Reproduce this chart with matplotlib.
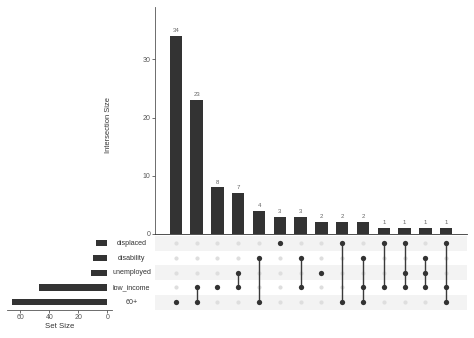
import matplotlib
matplotlib.use("Agg")
import matplotlib.pyplot as plt
from matplotlib.transforms import blended_transform_factory

plt.rcParams['font.family'] = ['Liberation Sans', 'DejaVu Sans']

# Data
sets = ["60+", "low_income", "unemployed", "disability", "displaced"]  # bottom to top
set_sizes = [66, 47, 11, 10, 8]
intersections = [
    ["60+"],
    ["low_income", "60+"],
    ["low_income"],
    ["unemployed", "low_income"],
    ["disability", "60+"],
    ["displaced"],
    ["disability", "low_income"],
    ["unemployed"],
    ["displaced", "60+"],
    ["disability", "low_income", "60+"],
    ["displaced", "low_income"],
    ["displaced", "unemployed", "low_income"],
    ["disability", "unemployed", "low_income"],
    ["displaced", "low_income", "60+"],
]
inter_sizes = [34, 23, 8, 7, 4, 3, 3, 2, 2, 2, 1, 1, 1, 1]
bar_ticks = [0, 10, 20, 30]
set_ticks = [60, 40, 20, 0]

W, H = 474, 338
fig = plt.figure(figsize=(W / 100, H / 100), dpi=100)

def ax_px(l, t, r, b):
    return fig.add_axes([l / W, 1 - b / H, (r - l) / W, (b - t) / H])

dark = "#333333"
txt = "#555555"
axc = "#555555"
n = len(inter_sizes)
xs = list(range(n))

# Intersection bars
axb = ax_px(155, 7, 467, 234)
axb.bar(xs, inter_sizes, width=0.6, color=dark)
for x, v in zip(xs, inter_sizes):
    axb.text(x, v + 0.5, str(v), ha="center", va="bottom", fontsize=4.3, color="#666666")
axb.set_xlim(-1, 14)
axb.set_ylim(0, 39)
axb.set_yticks(bar_ticks)
axb.set_yticklabels([str(t) for t in bar_ticks])
axb.tick_params(axis="y", labelsize=5, colors=axc, labelcolor=txt, length=2, width=0.6, pad=1.5)
axb.tick_params(axis="x", bottom=False, labelbottom=False)
for s in ["top", "right"]:
    axb.spines[s].set_visible(False)
axb.spines["left"].set_linewidth(0.6)
axb.spines["bottom"].set_linewidth(0.6)
axb.spines["left"].set_color(axc)
axb.spines["bottom"].set_color(dark)
fig.text(108 / W, 1 - 125 / H, "Intersection Size", rotation=90, ha="center", va="center",
         fontsize=5.4, color="#333333")

# Matrix
axm = ax_px(155, 236, 467, 309.5)
axm.set_xlim(-1, 14)
axm.set_ylim(-0.5, 4.5)
for i in range(0, len(sets), 2):
    axm.axhspan(i - 0.5, i + 0.5, color="#f3f3f3", lw=0, zorder=0)
for x, combo in enumerate(intersections):
    ys = [sets.index(s) for s in combo]
    for j in range(len(sets)):
        if j not in ys:
            axm.plot(x, j, "o", ms=3.0, color="#dedede", mec="none", zorder=2)
    if len(ys) > 1:
        axm.plot([x, x], [min(ys), max(ys)], color="#3a3a3a", lw=1.0, zorder=3)
    axm.plot([x] * len(ys), ys, "o", ms=3.8, color=dark, mec="none", zorder=4, ls="none")
axm.axis("off")

tr = blended_transform_factory(fig.transFigure, axm.transData)
for j, s in enumerate(sets):
    axm.text(131.5 / W, j, s, transform=tr, ha="center", va="center", fontsize=5.1,
             color="#333333", clip_on=False)

# Set sizes
axs = ax_px(7, 236, 112, 309.5)
axs.barh(range(len(sets)), set_sizes, height=0.42, color=dark)
axs.set_xlim(69.3, -3.3)
axs.set_ylim(-0.5, 4.5)
axs.set_xticks(set_ticks)
axs.set_xticklabels([str(t) for t in set_ticks])
axs.tick_params(axis="x", labelsize=5, colors=axc, labelcolor=txt, length=2, width=0.6, pad=1.5)
axs.tick_params(axis="y", left=False, labelleft=False)
for s in ["top", "right", "left"]:
    axs.spines[s].set_visible(False)
axs.spines["bottom"].set_linewidth(0.6)
axs.spines["bottom"].set_color(axc)
axs.set_xlabel("Set Size", fontsize=5.6, color="#333333", labelpad=1)

fig.savefig("out.png", dpi=100)
